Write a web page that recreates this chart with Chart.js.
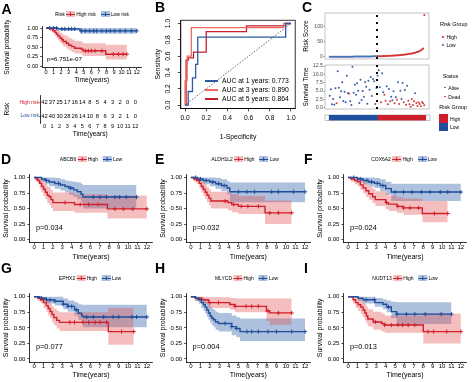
<!DOCTYPE html>
<html><head><meta charset="utf-8">
<script src="https://cdn.jsdelivr.net/npm/chart.js@4.4.1/dist/chart.umd.min.js"></script>
<style>
html,body{margin:0;padding:0;background:#fff}
body{position:relative;width:474px;height:382px;overflow:hidden;font-family:"Liberation Sans",Arial,Helvetica,sans-serif;color:#000}
canvas{position:absolute;display:block}
.tx{position:absolute;white-space:nowrap;line-height:1}
.lg{position:absolute;display:flex;align-items:center;white-space:nowrap;line-height:1;transform:translate(-50%,-50%)}
</style></head><body>
<script>
// ================= DATA =================
const timeTicks = [0,1,2,3,4,5,6,7,8,9,10,11,12];
const survTicks = [0,0.25,0.5,0.75,1];
const rocTicks = [0,0.2,0.4,0.6,0.8,1];
const riskTicks = [0,50,100];
const survTimeTicks = [0,2.5,5,7.5,10,12.5];
const groupLabels = ['High','Low'];
const riskLabels = ['High risk','Low risk'];
const geneNames = ['ABCB6','ALDH1L2','COX6A2','EPHX2','MLYCD','NUDT13'];
const pValues = ['p=0.034','p=0.032','p=0.024','p=0.077','p=0.004','p=0.013'];
const pValueA = 'p=6.751e-07';

// Panel A: Kaplan-Meier by risk group
const aHighT = [0,0.5,0.9,1.2,1.4,1.6,1.85,2.1,2.3,2.7,3.0,3.4,3.8,4.7,4.9,7.9];
const aHighS = [1,0.976,0.929,0.881,0.833,0.786,0.738,0.69,0.643,0.6,0.548,0.51,0.468,0.44,0.40,0.31];
const aHighLo = [1,0.93,0.86,0.79,0.73,0.67,0.61,0.56,0.51,0.46,0.41,0.37,0.33,0.30,0.26,0.17];
const aHighHi = [1,1,1,0.98,0.95,0.92,0.88,0.85,0.81,0.78,0.74,0.70,0.66,0.64,0.60,0.56];
const aHighEnd = 10.7;
const aHighCens = [5.2,5.6,6.0,6.5,7.4,8.9,9.6,10.2,10.7];
const aLowT = [0,1.5,4.5];
const aLowS = [1,0.976,0.925];
const aLowLo = [1,0.93,0.85];
const aLowHi = [1,1,1];
const aLowEnd = 12;
const aLowCens = [0.5,1.0,1.4,2.1,2.5,3.0,3.4,3.8,4.7,5.2,5.8,6.3,6.7,7.4,8.0,8.5,9.1,9.8,10.5,11.3,12];
// risk table
const tableHigh = [42,37,25,17,16,14,8,5,4,3,2,0,0];
const tableLow = [42,40,30,28,26,14,10,8,6,3,2,1,0];

// Panel B: ROC curves (FPR, TPR)
const roc1Fpr = [0,0.03,0.03,0.07,0.07,0.1,0.1,0.12,0.12,0.95,0.95,1];
const roc1Tpr = [0,0,0.167,0.167,0.333,0.333,0.5,0.5,0.833,0.833,1,1];
const roc3Fpr = [0,0,0.02,0.02,0.06,0.06,0.93,0.93,1];
const roc3Tpr = [0,0.3,0.3,0.6,0.6,0.95,0.95,1,1];
const roc5Fpr = [0,0.01,0.01,0.03,0.03,0.08,0.08,0.2,0.2,0.58,0.58,0.95,0.95,1];
const roc5Tpr = [0,0,0.55,0.55,0.58,0.58,0.65,0.65,0.9,0.9,0.97,0.97,1,1];
const rocLabels = ['AUC at 1 years: 0.773','AUC at 3 years: 0.890','AUC at 5 years: 0.864'];

// Panel C: risk score / survival time / status (sorted by risk score)
const cRiskLow = [0.21,0.25,0.28,0.31,0.34,0.37,0.40,0.42,0.45,0.47,0.50,0.53,0.55,0.58,0.61,0.63,0.66,0.69,0.72,0.75,0.78,0.81,0.85,0.88,0.92,0.96,1.00,1.04,1.08,1.12,1.17,1.22,1.27,1.32,1.38,1.44,1.50,1.57,1.64,1.72,1.80,1.89];
const cRiskHigh = [1.98,2.08,2.19,2.30,2.42,2.55,2.69,2.84,3.00,3.17,3.35,3.55,3.76,3.98,4.22,4.47,4.74,5.03,5.34,5.67,6.02,6.40,6.80,7.23,7.69,8.18,8.70,9.26,9.86,10.5,11.2,12.0,12.9,13.9,15.0,16.3,17.8,19.6,21.8,24.5,27.5,137.2];
const cTimeLow = [3.6,5.5,1.0,2.6,0.9,5.8,1.3,10.9,6.0,3.1,4.9,7.6,2.0,4.8,1.6,9.6,4.4,4.2,1.9,0.8,12.3,4.5,6.9,3.9,7.3,5.1,1.4,8.4,2.3,5.0,3.3,7.7,6.3,1.2,8.1,5.4,9.2,3.5,8.6,7.9,1.1,5.9];
const cStatusLow = [0,0,0,0,0,0,1,0,0,0,0,0,0,0,0,0,0,1,0,0,0,0,0,0,0,0,0,0,0,0,0,0,0,0,0,0,0,0,0,0,0,0];
const cTimeHigh = [9.6,11.2,6.1,1.6,10.3,4.6,3.9,2.1,6.4,1.0,5.6,1.9,3.3,2.2,4.9,1.3,3.1,2.4,7.6,1.1,5.1,2.6,7.4,1.6,5.3,0.9,6.6,2.1,1.0,0.3,2.6,0.8,1.9,4.3,1.4,0.5,1.6,1.1,0.4,1.7,1.3,0.7];
const cStatusHigh = [0,0,0,1,0,0,1,1,0,1,0,1,0,0,0,1,0,1,0,1,0,0,0,1,0,1,0,1,1,1,1,1,1,0,1,1,1,1,1,1,1,1];

// Panels D-I: KM by gene expression
const dHighT = [0,0.2,0.4,0.6,0.8,1.0,1.2,1.4,1.6,1.8,2.0,4.3,7.8];
const dHighS = [1,0.976,0.952,0.905,0.857,0.81,0.762,0.714,0.69,0.643,0.595,0.565,0.494];
const dHighLo = [1,0.93,0.89,0.82,0.76,0.70,0.65,0.59,0.56,0.51,0.46,0.43,0.34];
const dHighHi = [1,1,1,0.99,0.96,0.93,0.89,0.86,0.84,0.80,0.76,0.73,0.71];
const dHighEnd = 12;
const dHighCens = [3.3,4.9,5.8,6.8,8.6,9.5,10.5,12];
const dLowT = [0,0.8,1.2,1.6,2.2,2.8,3.3,3.7,4.2,4.6,5.0,5.2];
const dLowS = [1,0.976,0.952,0.928,0.904,0.88,0.856,0.83,0.80,0.77,0.73,0.685];
const dLowLo = [1,0.93,0.89,0.86,0.82,0.79,0.76,0.72,0.69,0.65,0.6,0.5];
const dLowHi = [1,1,1,1,0.99,0.97,0.95,0.94,0.93,0.92,0.9,0.88];
const dLowEnd = 10.9;
const dLowCens = [1.3,2.6,3.9,6.3,7.0,7.7,8.6,9.1,9.8,10.9];

const eHighT = [0,0.3,0.6,0.9,1.1,1.3,1.5,1.7,1.9,2.1,3.9,4.3,5.0,7.8];
const eHighS = [1,0.976,0.952,0.905,0.857,0.81,0.762,0.714,0.667,0.62,0.595,0.565,0.535,0.43];
const eHighLo = [1,0.93,0.89,0.82,0.76,0.70,0.65,0.60,0.55,0.50,0.47,0.44,0.41,0.25];
const eHighHi = [1,1,1,0.99,0.96,0.93,0.89,0.85,0.81,0.77,0.75,0.73,0.70,0.63];
const eHighEnd = 10.6;
const eHighCens = [3.6,4.5,5.3,6.0,7.1,8.3,9.2,10.6];
const eLowT = [0,0.7,1.3,2.0,2.6,3.2,3.8,4.1];
const eLowS = [1,0.976,0.952,0.928,0.9,0.87,0.83,0.77];
const eLowLo = [1,0.93,0.89,0.86,0.82,0.78,0.73,0.6];
const eLowHi = [1,1,1,1,0.99,0.97,0.94,0.92];
const eLowEnd = 12;
const eLowCens = [0.5,1.0,1.6,2.3,2.9,3.5,5.0,5.9,6.7,8.5,9.2,10.8,12];

const fHighT = [0,0.3,0.7,1.0,1.3,1.6,1.9,2.2,2.6,2.9,4.0,4.3,5.2,5.9,7.9];
const fHighS = [1,0.976,0.952,0.929,0.881,0.833,0.786,0.738,0.69,0.643,0.595,0.57,0.535,0.51,0.42];
const fHighLo = [1,0.93,0.89,0.86,0.80,0.74,0.69,0.64,0.59,0.54,0.49,0.46,0.43,0.40,0.28];
const fHighHi = [1,1,1,1,0.97,0.94,0.90,0.86,0.82,0.78,0.74,0.71,0.68,0.66,0.62];
const fHighEnd = 10.6;
const fHighCens = [4.1,5.3,5.9,6.6,7.5,9.2,10.6];
const fLowT = [0,1.0,1.6,2.2,2.8,3.4,4.0,4.6];
const fLowS = [1,0.976,0.952,0.928,0.905,0.87,0.82,0.765];
const fLowLo = [1,0.93,0.89,0.86,0.83,0.78,0.72,0.62];
const fLowHi = [1,1,1,1,0.99,0.97,0.93,0.9];
const fLowEnd = 12;
const fLowCens = [0.6,1.3,2.0,2.5,3.1,3.7,5.0,5.9,6.8,7.8,8.7,9.8,10.6,12];

const gHighT = [0,0.4,0.7,1.0,1.3,1.5,1.7,1.9,2.1,2.4,2.7,7.9];
const gHighS = [1,0.976,0.952,0.905,0.857,0.81,0.762,0.714,0.667,0.62,0.588,0.44];
const gHighLo = [1,0.93,0.89,0.82,0.76,0.70,0.65,0.59,0.54,0.49,0.45,0.23];
const gHighHi = [1,1,1,0.99,0.96,0.93,0.89,0.85,0.81,0.77,0.75,0.82];
const gHighEnd = 10.6;
const gHighCens = [3.8,4.3,5.2,5.8,6.5,7.0,7.7,9.3,10.6];
const gLowT = [0,0.6,1.3,2.2,3.1,3.6,4.3,4.7,5.05,5.2];
const gLowS = [1,0.976,0.952,0.928,0.88,0.845,0.79,0.735,0.70,0.675];
const gLowLo = [1,0.93,0.89,0.86,0.80,0.76,0.70,0.63,0.59,0.51];
const gLowHi = [1,1,1,1,0.97,0.94,0.91,0.88,0.87,0.87];
const gLowEnd = 12;
const gLowCens = [0.8,1.3,1.7,2.2,3.1,3.6,4.0,4.5,5.6,6.3,7.4,8.4,9.0,10.4,10.9,12];

const hHighT = [0,0.45,1.15,1.85,4.1,4.65,7.95,8.3];
const hHighS = [1,0.976,0.952,0.905,0.875,0.845,0.77,0.74];
const hHighLo = [1,0.93,0.89,0.82,0.79,0.75,0.61,0.55];
const hHighHi = [1,1,1,0.99,0.98,0.97,0.97,0.97];
const hHighEnd = 10.6;
const hHighCens = [2.0,2.9,4.65,5.8,6.4,7.1,8.1,9.2,10.6];
const hLowT = [0,0.5,0.8,1.1,1.33,1.5,1.68,1.85,2.03,2.2,2.38,2.6,2.9,4.3,4.8,5.17];
const hLowS = [1,0.976,0.952,0.905,0.87,0.833,0.786,0.738,0.69,0.655,0.63,0.595,0.57,0.52,0.49,0.44];
const hLowLo = [1,0.93,0.89,0.82,0.77,0.73,0.68,0.63,0.58,0.54,0.51,0.47,0.44,0.38,0.35,0.29];
const hLowHi = [1,1,1,0.99,0.97,0.95,0.91,0.88,0.84,0.81,0.79,0.76,0.74,0.70,0.67,0.65];
const hLowEnd = 12;
const hLowCens = [3.6,4.3,4.8,5.9,6.4,7.1,8.1,9.0,10.6,12];

const iHighT = [0,0.53,0.8,1.07,1.35,1.6,1.78,1.95,2.1,2.67,3.56,3.9,8.0];
const iHighS = [1,0.952,0.905,0.87,0.833,0.786,0.738,0.69,0.643,0.595,0.57,0.545,0.44];
const iHighLo = [1,0.89,0.82,0.77,0.72,0.67,0.62,0.57,0.52,0.47,0.44,0.42,0.25];
const iHighHi = [1,1,0.99,0.97,0.95,0.91,0.88,0.84,0.80,0.76,0.73,0.70,0.73];
const iHighEnd = 12;
const iHighCens = [2.9,3.9,4.6,5.3,5.8,6.4,7.1,8.5,9.1,10.5,12];
const iLowT = [0,1.07,1.6,2.85,3.7,4.1,4.6,5.16];
const iLowS = [1,0.976,0.952,0.905,0.88,0.835,0.76,0.72];
const iLowLo = [1,0.93,0.89,0.84,0.80,0.75,0.66,0.56];
const iLowHi = [1,1,1,0.98,0.96,0.94,0.92,0.91];
const iLowEnd = 11.0;
const iLowCens = [1.9,2.8,4.3,5.2,6.2,7.1,8.2,9.9,11.0];

// ================= STYLE =================
const FONT = '"Liberation Sans", Arial, Helvetica, sans-serif';
Chart.defaults.font.family = FONT;
Chart.defaults.color = '#000';
const RED = '#d0202c', BLUE = '#1f4e9a';
const RED_BAND = 'rgba(226,70,70,0.35)', BLUE_BAND = 'rgba(50,100,175,0.40)';
const RED_KEY = '#f5bebe', BLUE_KEY = '#adc1df';
const ROC1 = '#2c5aa6', ROC3 = '#ef6a5c', ROC5 = '#c41e2a';
const LOW_PT = '#4a6fb5', HIGH_PT = '#d63333', ALIVE = '#3a5fa8', DEAD = '#d83a3a';
const TILE_BLUE = '#1f4f9c', TILE_RED = '#cc1f2b';

// ================= HELPERS =================
function mkCanvas(x, y, w, h) {
  const c = document.createElement('canvas');
  c.width = w; c.height = h;
  c.style.left = x + 'px'; c.style.top = y + 'px';
  c.style.width = w + 'px'; c.style.height = h + 'px';
  document.body.appendChild(c);
  return c;
}
function chartAt(o) {
  const cx = Math.floor(o.area.l - o.pad.l), cy = Math.floor(o.area.t - o.pad.t);
  const cw = Math.ceil(o.area.r + o.pad.r) - cx, ch = Math.ceil(o.area.b + o.pad.b) - cy;
  const L = o.area.l - cx, T = o.area.t - cy, R = cx + cw - o.area.r, B = cy + ch - o.area.b;
  const x = o.x, y = o.y;
  x.position = 'bottom'; y.position = 'left';
  x.afterFit = s => { s.height = B; };
  y.afterFit = s => { s.width = L; };
  if (x.title && x.title.display) { const lh = x.title.font.size * 1.2; x.title.padding = {top: 0, bottom: (cy + ch) - o.xTitleY - lh / 2}; }
  if (y.title && y.title.display) { const lh = y.title.font.size * 1.2; y.title.padding = {top: o.yTitleX - cx - lh / 2, bottom: 0}; }
  const cv = mkCanvas(cx, cy, cw, ch);
  return new Chart(cv, {
    type: o.type || 'line',
    data: {labels: o.labels, datasets: o.datasets},
    options: {
      responsive: false, maintainAspectRatio: false, animation: false, devicePixelRatio: 1, events: [],
      indexAxis: o.indexAxis || 'x',
      layout: {padding: {left: 0, bottom: 0, top: T, right: R}},
      plugins: {legend: {display: false}, tooltip: {enabled: false}, title: {display: false}},
      scales: {x: x, y: y}
    },
    plugins: o.plugins || []
  });
}
function hiddenLinear(min, max) {
  return {type: 'linear', min: min, max: max, ticks: {display: false}, grid: {display: false, drawTicks: false, tickLength: 0}, border: {display: false}, title: {display: false}};
}
const boxPlugin = (color, w) => ({id: 'box', beforeDatasetsDraw(chart) {
  const a = chart.chartArea, c = chart.ctx; c.save(); c.strokeStyle = color; c.lineWidth = w;
  c.strokeRect(a.left, a.top, a.right - a.left, a.bottom - a.top); c.restore(); }});

function stepPts(t, v, end) { const p = t.map((x, i) => ({x: x, y: v[i]})); p.push({x: end, y: v[v.length - 1]}); return p; }
function survAt(t, s, x) { let v = s[0]; for (let i = 0; i < t.length; i++) if (t[i] <= x) v = s[i]; return v; }
function kmSets(g, color, band) {
  return {
    line: {data: stepPts(g.t, g.s, g.end), borderColor: color, borderWidth: 1.4, stepped: true, pointRadius: 0, fill: false},
    cens: {data: g.c.map(x => ({x: x, y: survAt(g.t, g.s, x)})), showLine: false, pointStyle: 'cross', pointRadius: 2.1, borderColor: color, borderWidth: 1, fill: false},
    lo: {data: stepPts(g.t, g.lo, g.end), stepped: true, borderColor: 'transparent', borderWidth: 0, pointRadius: 0, fill: false},
    hi: {data: stepPts(g.t, g.hi, g.end), stepped: true, borderColor: 'transparent', borderWidth: 0, pointRadius: 0, fill: '-1', backgroundColor: band}
  };
}
const axGrid = (len) => ({display: true, drawOnChartArea: false, drawTicks: true, tickLength: len, color: '#000', lineWidth: 0.7});
const axBorder = {display: true, color: '#000', width: 0.8};
function kmX(ts, tts) { return {type: 'linear', min: -0.5, max: 12.6,
  afterBuildTicks: s => { s.ticks = timeTicks.map(v => ({value: v})); },
  ticks: {font: {size: ts, lineHeight: 1}, color: '#000', padding: -0.5, autoSkip: false, maxRotation: 0, callback: v => String(v)},
  grid: axGrid(2), border: axBorder,
  title: {display: true, text: 'Time(years)', color: '#000', font: {size: tts}}}; }
function kmY(ts, tts) { return {type: 'linear', min: -0.05, max: 1.05,
  afterBuildTicks: s => { s.ticks = survTicks.map(v => ({value: v})); },
  ticks: {font: {size: ts, lineHeight: 1}, color: '#000', padding: 2, callback: v => v.toFixed(2)},
  grid: axGrid(2), border: axBorder,
  title: {display: true, text: 'Survival probability', color: '#000', font: {size: tts}}}; }
function kmChart(area, pad, xTitleY, yTitleX, high, low, ts, tts) {
  const hs = kmSets(high, RED, RED_BAND), ls = kmSets(low, BLUE, BLUE_BAND);
  return chartAt({area: area, pad: pad, xTitleY: xTitleY, yTitleX: yTitleX,
    datasets: [ls.line, hs.line, ls.cens, hs.cens, hs.lo, hs.hi, ls.lo, ls.hi],
    x: kmX(ts, tts), y: kmY(ts, tts)});
}

function tx(str, x, y, size, o) {
  o = o || {};
  const d = document.createElement('div'); d.className = 'tx'; d.textContent = str;
  d.style.left = x + 'px'; d.style.top = y + 'px'; d.style.fontSize = size + 'px';
  if (o.bold) d.style.fontWeight = 'bold';
  if (o.color) d.style.color = o.color;
  if (!o.tl) d.style.transform = o.center ? 'translate(-50%,-50%)' : 'translate(0,-50%)';
  document.body.appendChild(d); return d;
}
function rect(x, y, w, h, color, radius) {
  const d = document.createElement('div');
  d.style.cssText = `position:absolute;left:${x}px;top:${y}px;width:${w}px;height:${h}px;background:${color};` + (radius ? 'border-radius:50%;' : '');
  document.body.appendChild(d); return d;
}
function keyBox(color, band) {
  const k = document.createElement('span');
  k.style.cssText = `position:relative;display:inline-block;width:9px;height:6px;background:${band};`;
  const h = document.createElement('span'); h.style.cssText = `position:absolute;left:0;right:0;top:2.5px;height:1px;background:${color}`;
  const v = document.createElement('span'); v.style.cssText = `position:absolute;left:4px;width:1px;top:1px;height:4px;background:${color}`;
  k.append(h, v); return k;
}
function legendRow(title, cx, cy, labels) {
  const d = document.createElement('div'); d.className = 'lg';
  d.style.left = cx + 'px'; d.style.top = cy + 'px'; d.style.fontSize = '5px';
  const t = document.createElement('span'); t.textContent = title; t.style.marginRight = '1.5px'; d.append(t);
  [[RED, RED_KEY, labels[0]], [BLUE, BLUE_KEY, labels[1]]].forEach((a, i) => {
    d.append(keyBox(a[0], a[1]));
    const s = document.createElement('span'); s.textContent = a[2]; s.style.marginLeft = '1px';
    if (i === 0) s.style.marginRight = '5px';
    d.append(s);
  });
  document.body.append(d);
}

// ================= PANEL A =================
kmChart({l: 42.2, t: 26.1, r: 141.2, b: 67.9}, {l: 42, t: 6, r: 6, b: 16}, 80, 7.5,
  {t: aHighT, s: aHighS, lo: aHighLo, hi: aHighHi, end: aHighEnd, c: aHighCens},
  {t: aLowT, s: aLowS, lo: aLowLo, hi: aLowHi, end: aLowEnd, c: aLowCens}, 5.6, 6.6);
legendRow('Risk', 92, 14, riskLabels);
tx(pValueA, 47, 59, 6.2);

const tablePlugin = {id: 'tableText', afterDatasetsDraw(chart) {
  const c = chart.ctx, xs = chart.scales.x, ys = chart.scales.y;
  c.save(); c.font = '5.8px ' + FONT; c.fillStyle = '#000'; c.textAlign = 'center'; c.textBaseline = 'middle';
  [tableHigh, tableLow].forEach((row, r) => row.forEach((n, i) => c.fillText(String(n), xs.getPixelForValue(timeTicks[i]), ys.getPixelForValue(r))));
  c.restore(); }};
chartAt({area: {l: 40.7, t: 95, r: 139.8, b: 123}, pad: {l: 40, t: 3, r: 6, b: 15}, xTitleY: 134, yTitleX: 7.5,
  datasets: [],
  x: {type: 'linear', min: -0.5, max: 12.6, afterBuildTicks: s => { s.ticks = timeTicks.map(v => ({value: v})); },
    ticks: {font: {size: 5.5, lineHeight: 1}, color: '#000', padding: 0.3, autoSkip: false, maxRotation: 0, callback: v => String(v)},
    grid: {display: false, drawTicks: false, tickLength: 0}, border: {display: false},
    title: {display: true, text: 'Time(years)', color: '#000', font: {size: 6.6}}},
  y: {type: 'category', labels: riskLabels, offset: true,
    ticks: {font: {size: 5}, padding: 0.3, color: c => c.index === 0 ? RED : BLUE},
    grid: {display: true, drawOnChartArea: false, drawTicks: true, tickLength: 1.5, color: '#000', lineWidth: 0.6}, border: axBorder,
    title: {display: true, text: 'Risk', color: '#000', font: {size: 6.6}}},
  plugins: [tablePlugin]});

// ================= PANEL B =================
const rocSet = (fx, ty, color) => ({data: fx.map((v, i) => ({x: v, y: ty[i]})), borderColor: color, borderWidth: 1.3, pointRadius: 0, fill: false});
chartAt({area: {l: 180.8, t: 17.1, r: 295.2, b: 108.4}, pad: {l: 27, t: 5, r: 5, b: 33}, xTitleY: 136.7, yTitleX: 158.5,
  datasets: [rocSet(roc1Fpr, roc1Tpr, ROC1), rocSet(roc3Fpr, roc3Tpr, ROC3), rocSet(roc5Fpr, roc5Tpr, ROC5),
    {data: [{x: rocTicks[0], y: rocTicks[0]}, {x: rocTicks[rocTicks.length - 1], y: rocTicks[rocTicks.length - 1]}], borderColor: '#444', borderWidth: 0.8, borderDash: [1.5, 1.5], pointRadius: 0, fill: false}],
  x: {type: 'linear', min: -0.04, max: 1.04, afterBuildTicks: s => { s.ticks = rocTicks.map(v => ({value: v})); },
    ticks: {font: {size: 6.7, lineHeight: 1}, color: '#000', padding: 3.5, autoSkip: false, maxRotation: 0, callback: v => v.toFixed(1)},
    grid: axGrid(3), border: axBorder, title: {display: true, text: '1-Specificity', color: '#000', font: {size: 6.8}}},
  y: {type: 'linear', min: -0.04, max: 1.04, afterBuildTicks: s => { s.ticks = rocTicks.map(v => ({value: v})); },
    ticks: {font: {size: 6.7, lineHeight: 1}, color: '#000', padding: 4.9, minRotation: 90, maxRotation: 90, crossAlign: 'center', callback: v => v.toFixed(1)},
    grid: axGrid(3), border: axBorder, title: {display: true, text: 'Sensitivity', color: '#000', font: {size: 6.8}}},
  plugins: [boxPlugin('#000', 0.8)]});
[ROC1, ROC3, ROC5].forEach((c, i) => {
  rect(205, 81 + i * 9 - 0.65, 13, 1.3, c);
  tx(rocLabels[i], 222, 81 + i * 9, 6.8);
});

// ================= PANEL C =================
const nLow = cRiskLow.length, nAll = cRiskLow.length + cRiskHigh.length, cut = nLow + 0.5;
const cutLine = (y0, y1) => ({data: [{x: cut, y: y0}, {x: cut, y: y1}], borderColor: '#000', borderWidth: 2, borderDash: [2, 5], pointRadius: 0, fill: false});
const ptSet = (pts, color) => ({data: pts, showLine: false, pointRadius: 1, pointBorderWidth: 0, backgroundColor: color, borderColor: color, fill: false});
const cTickY = (ticks, fmt, title) => ({type: 'linear', afterBuildTicks: s => { s.ticks = ticks.map(v => ({value: v})); },
  ticks: {font: {size: 5.2, lineHeight: 1}, color: '#4d4d4d', padding: 0.6, callback: fmt},
  grid: {display: true, drawOnChartArea: false, drawTicks: true, tickLength: 1.5, color: '#4d4d4d', lineWidth: 0.6}, border: {display: false},
  title: {display: true, text: title, color: '#000', font: {size: 6.5}}});
const yTop = Object.assign(cTickY(riskTicks, v => String(v), 'Risk Score'), {min: -7, max: 144});
chartAt({area: {l: 325, t: 13, r: 430, b: 59}, pad: {l: 23, t: 5, r: 3, b: 5}, yTitleX: 306.7,
  datasets: [cutLine(-7, 144),
    ptSet(cRiskLow.map((v, i) => ({x: i + 1, y: v})), LOW_PT),
    ptSet(cRiskHigh.map((v, i) => ({x: nLow + i + 1, y: v})), HIGH_PT)],
  x: hiddenLinear(-3.15, 88.15), y: yTop, plugins: [boxPlugin('#b5b5b5', 0.8)]});
const cTimes = cTimeLow.concat(cTimeHigh), cStatus = cStatusLow.concat(cStatusHigh);
const alivePts = [], deadPts = [];
cTimes.forEach((t, i) => (cStatus[i] ? deadPts : alivePts).push({x: i + 1, y: t}));
const yBot = Object.assign(cTickY(survTimeTicks, v => v.toFixed(1), 'Survival Time'), {min: -0.4, max: 12.8});
chartAt({area: {l: 325, t: 65, r: 430, b: 109}, pad: {l: 23, t: 4, r: 3, b: 4}, yTitleX: 306.7,
  datasets: [cutLine(-0.4, 12.8), ptSet(alivePts, ALIVE), ptSet(deadPts, DEAD)],
  x: hiddenLinear(-3.15, 88.15), y: yBot, plugins: [boxPlugin('#b5b5b5', 0.8)]});
chartAt({type: 'bar', indexAxis: 'y', labels: ['Risk Group'],
  area: {l: 325, t: 115, r: 430, b: 120.5}, pad: {l: 2, t: 2, r: 2, b: 2},
  datasets: [
    {data: [[0.5, cut]], backgroundColor: TILE_BLUE, borderWidth: 0, barPercentage: 1, categoryPercentage: 1, grouped: false},
    {data: [[cut, nAll + 0.5]], backgroundColor: TILE_RED, borderWidth: 0, barPercentage: 1, categoryPercentage: 1, grouped: false}],
  x: hiddenLinear(-3.15, 88.15),
  y: {type: 'category', ticks: {display: false}, grid: {display: false, drawTicks: false, tickLength: 0}, border: {display: false}, title: {display: false}},
  plugins: [boxPlugin('#b5b5b5', 0.8)]});
// C legends
tx('Risk Group', 440, 25, 5.5);
rect(442.2, 36.2, 1.6, 1.6, HIGH_PT, true); tx(groupLabels[0], 446.5, 37, 5);
rect(442.2, 44.2, 1.6, 1.6, LOW_PT, true); tx(groupLabels[1], 446.5, 45, 5);
tx('Status', 442.7, 76.7, 5.5);
rect(444.2, 86.9, 1.6, 1.6, ALIVE, true); tx('Alive', 448.3, 87.7, 5);
rect(444.2, 95.9, 1.6, 1.6, DEAD, true); tx('Dead', 448.3, 96.7, 5);
tx('Risk Group', 439.3, 107.7, 5.5);
rect(439, 114.3, 8.7, 8.3, TILE_RED); rect(439, 122.6, 8.7, 8.3, TILE_BLUE);
tx(groupLabels[0], 450, 118.5, 5); tx(groupLabels[1], 450, 126.8, 5);

// ================= PANELS D-I =================
const colL = [29.4, 186.1, 343.4], colR = [152.5, 310.7, 466.5];
const rows = [{t: 174.4, b: 242.6, pb: 19, xt: 257, leg: 159, p: 228}, {t: 293.6, b: 362.1, pb: 17.5, xt: 375, leg: 278, p: 347}];
const kmGroups = [
  [{t: dHighT, s: dHighS, lo: dHighLo, hi: dHighHi, end: dHighEnd, c: dHighCens}, {t: dLowT, s: dLowS, lo: dLowLo, hi: dLowHi, end: dLowEnd, c: dLowCens}],
  [{t: eHighT, s: eHighS, lo: eHighLo, hi: eHighHi, end: eHighEnd, c: eHighCens}, {t: eLowT, s: eLowS, lo: eLowLo, hi: eLowHi, end: eLowEnd, c: eLowCens}],
  [{t: fHighT, s: fHighS, lo: fHighLo, hi: fHighHi, end: fHighEnd, c: fHighCens}, {t: fLowT, s: fLowS, lo: fLowLo, hi: fLowHi, end: fLowEnd, c: fLowCens}],
  [{t: gHighT, s: gHighS, lo: gHighLo, hi: gHighHi, end: gHighEnd, c: gHighCens}, {t: gLowT, s: gLowS, lo: gLowLo, hi: gLowHi, end: gLowEnd, c: gLowCens}],
  [{t: hHighT, s: hHighS, lo: hHighLo, hi: hHighHi, end: hHighEnd, c: hHighCens}, {t: hLowT, s: hLowS, lo: hLowLo, hi: hLowHi, end: hLowEnd, c: hLowCens}],
  [{t: iHighT, s: iHighS, lo: iHighLo, hi: iHighHi, end: iHighEnd, c: iHighCens}, {t: iLowT, s: iLowS, lo: iLowLo, hi: iLowHi, end: iLowEnd, c: iLowCens}]
];
const legendCx = [91, 245, 404, 90, 246.5, 405];
kmGroups.forEach((g, k) => {
  const r = rows[Math.floor(k / 3)], c = k % 3;
  kmChart({l: colL[c], t: r.t, r: colR[c], b: r.b}, {l: 29, t: 5, r: 6, b: r.pb}, r.xt, colL[c] - 23.3, g[0], g[1], 6, 7);
  legendRow(geneNames[k], legendCx[k], r.leg, groupLabels);
  tx(pValues[k], colL[c] + 6.5, r.p, 7.4);
});

// ================= PANEL LETTERS =================
[['A', 1.5, 1.5], ['B', 155, 0], ['C', 302, 0], ['D', 1, 152], ['E', 155, 152], ['F', 304, 152], ['G', 1, 261], ['H', 155, 261], ['I', 304, 261]]
  .forEach(a => tx(a[0], a[1], a[2], 14, {bold: true, tl: true}));
</script>
</body></html>
